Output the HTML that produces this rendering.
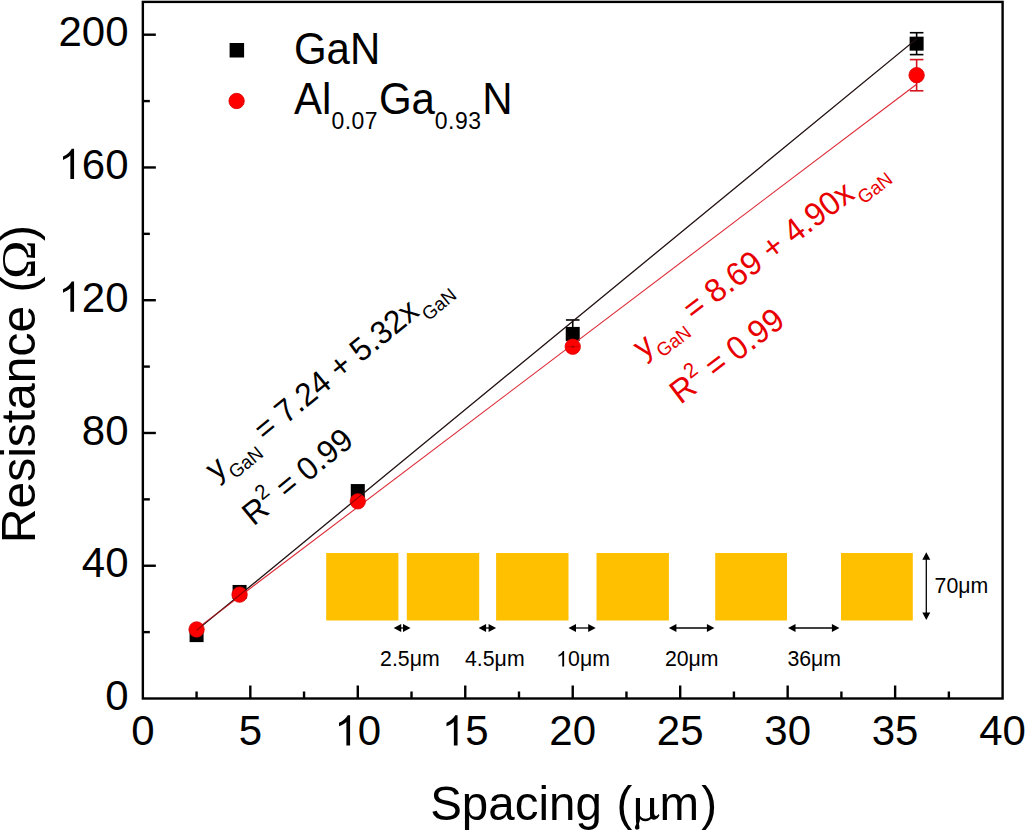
<!DOCTYPE html>
<html><head><meta charset="utf-8"><style>
html,body{margin:0;padding:0;background:#fff;}
svg{display:block;font-family:"Liberation Sans", sans-serif;}
</style></head><body>
<svg width="1025" height="831" viewBox="0 0 1025 831">
<rect width="1025" height="831" fill="#fff"/>
<rect x="142.85" y="1.9" width="859.75" height="696.60" fill="none" stroke="#000" stroke-width="2.4"/>
<line x1="196.58" y1="698.5" x2="196.58" y2="691.5" stroke="#000" stroke-width="2.4"/>
<line x1="250.32" y1="698.5" x2="250.32" y2="685.5" stroke="#000" stroke-width="2.4"/>
<line x1="304.05" y1="698.5" x2="304.05" y2="691.5" stroke="#000" stroke-width="2.4"/>
<line x1="357.79" y1="698.5" x2="357.79" y2="685.5" stroke="#000" stroke-width="2.4"/>
<line x1="411.52" y1="698.5" x2="411.52" y2="691.5" stroke="#000" stroke-width="2.4"/>
<line x1="465.26" y1="698.5" x2="465.26" y2="685.5" stroke="#000" stroke-width="2.4"/>
<line x1="518.99" y1="698.5" x2="518.99" y2="691.5" stroke="#000" stroke-width="2.4"/>
<line x1="572.73" y1="698.5" x2="572.73" y2="685.5" stroke="#000" stroke-width="2.4"/>
<line x1="626.46" y1="698.5" x2="626.46" y2="691.5" stroke="#000" stroke-width="2.4"/>
<line x1="680.19" y1="698.5" x2="680.19" y2="685.5" stroke="#000" stroke-width="2.4"/>
<line x1="733.93" y1="698.5" x2="733.93" y2="691.5" stroke="#000" stroke-width="2.4"/>
<line x1="787.66" y1="698.5" x2="787.66" y2="685.5" stroke="#000" stroke-width="2.4"/>
<line x1="841.40" y1="698.5" x2="841.40" y2="691.5" stroke="#000" stroke-width="2.4"/>
<line x1="895.13" y1="698.5" x2="895.13" y2="685.5" stroke="#000" stroke-width="2.4"/>
<line x1="948.87" y1="698.5" x2="948.87" y2="691.5" stroke="#000" stroke-width="2.4"/>
<line x1="142.85" y1="632.12" x2="149.85" y2="632.12" stroke="#000" stroke-width="2.4"/>
<line x1="142.85" y1="565.74" x2="155.85" y2="565.74" stroke="#000" stroke-width="2.4"/>
<line x1="142.85" y1="499.36" x2="149.85" y2="499.36" stroke="#000" stroke-width="2.4"/>
<line x1="142.85" y1="432.98" x2="155.85" y2="432.98" stroke="#000" stroke-width="2.4"/>
<line x1="142.85" y1="366.60" x2="149.85" y2="366.60" stroke="#000" stroke-width="2.4"/>
<line x1="142.85" y1="300.22" x2="155.85" y2="300.22" stroke="#000" stroke-width="2.4"/>
<line x1="142.85" y1="233.84" x2="149.85" y2="233.84" stroke="#000" stroke-width="2.4"/>
<line x1="142.85" y1="167.46" x2="155.85" y2="167.46" stroke="#000" stroke-width="2.4"/>
<line x1="142.85" y1="101.08" x2="149.85" y2="101.08" stroke="#000" stroke-width="2.4"/>
<line x1="142.85" y1="34.70" x2="155.85" y2="34.70" stroke="#000" stroke-width="2.4"/>
<text transform="translate(131.17,745.40) scale(1,1.03)" font-size="42">0</text>
<text transform="translate(238.64,745.40) scale(1,1.03)" font-size="42">5</text>
<path transform="translate(334.43,745.40) scale(0.02051,-0.02051)" d="M763,0 L583,0 L583,1147 C540,1106 483,1064 413,1023 C343,982 280,951 224,930 L224,1104 C325,1151 413,1209 489,1276 C564,1343 618,1409 649,1473 L763,1473 Z"/><text transform="translate(357.79,745.40) scale(1,1.03)" font-size="42">0</text>
<path transform="translate(441.90,745.40) scale(0.02051,-0.02051)" d="M763,0 L583,0 L583,1147 C540,1106 483,1064 413,1023 C343,982 280,951 224,930 L224,1104 C325,1151 413,1209 489,1276 C564,1343 618,1409 649,1473 L763,1473 Z"/><text transform="translate(465.26,745.40) scale(1,1.03)" font-size="42">5</text>
<text transform="translate(549.37,745.40) scale(1,1.03)" font-size="42">20</text>
<text transform="translate(656.84,745.40) scale(1,1.03)" font-size="42">25</text>
<text transform="translate(764.30,745.40) scale(1,1.03)" font-size="42">30</text>
<text transform="translate(871.77,745.40) scale(1,1.03)" font-size="42">35</text>
<text transform="translate(979.24,745.40) scale(1,1.03)" font-size="42">40</text>
<text transform="translate(105.14,710.10) scale(1,1.03)" font-size="42">0</text>
<text transform="translate(81.78,577.34) scale(1,1.03)" font-size="42">40</text>
<text transform="translate(81.78,444.58) scale(1,1.03)" font-size="42">80</text>
<path transform="translate(58.42,311.82) scale(0.02051,-0.02051)" d="M763,0 L583,0 L583,1147 C540,1106 483,1064 413,1023 C343,982 280,951 224,930 L224,1104 C325,1151 413,1209 489,1276 C564,1343 618,1409 649,1473 L763,1473 Z"/><text transform="translate(81.78,311.82) scale(1,1.03)" font-size="42">20</text>
<path transform="translate(58.42,179.06) scale(0.02051,-0.02051)" d="M763,0 L583,0 L583,1147 C540,1106 483,1064 413,1023 C343,982 280,951 224,930 L224,1104 C325,1151 413,1209 489,1276 C564,1343 618,1409 649,1473 L763,1473 Z"/><text transform="translate(81.78,179.06) scale(1,1.03)" font-size="42">60</text>
<text transform="translate(58.42,46.30) scale(1,1.03)" font-size="42">200</text>
<text transform="translate(430.2,819.5) scale(1,1.03)" font-size="47.5">Spacing</text><text transform="translate(616.4,819.5) scale(1,1.03)" font-size="47.5">(</text><path d="M635.9,798.1 H640.0 V818.6 Q640,821.6 638.9,823.9 Q639.4,825.2 639.3,826.7 A2.25,2.25 0 1 1 634.9,827.3 Q635.2,825.6 636.3,823.9 Q635.9,821.6 635.9,818.6 Z"/><path d="M639.2,814.2 C641,818.6 645.2,819.4 648.2,818.2 C650,817.4 650.9,816 651.4,814.4 L652.6,816.8 C651.2,819.8 648.6,821.2 645.4,821.2 C642,821.2 639.8,819.4 638.6,817.2 Z"/><path d="M650.0,798.1 H654.1 V813.6 Q654.4,816.2 656.3,815.9 Q657.6,815.6 658.6,814.0 L659.5,815.2 Q658,818.9 655.2,819.6 Q651.2,820.3 650.4,817 Q650.0,815.8 650.0,814 Z"/><text transform="translate(659.4,819.5) scale(1,1.03)" font-size="47.5">m</text><text transform="translate(701.2,819.5) scale(1,1.03)" font-size="47.5">)</text>
<g transform="translate(35.4,543.2) rotate(-90) scale(1,1.02)"><text x="0" y="0" font-size="48">Resistance (</text><text transform="translate(264.2,0) scale(1.082,1)" font-family="Liberation Serif" font-size="48">&#937;</text><text x="302.3" y="0" font-size="48">)</text></g>
<line x1="572.73" y1="319.97" x2="572.73" y2="347.85" stroke="#000" stroke-width="1.6"/><line x1="565.93" y1="319.97" x2="579.52" y2="319.97" stroke="#000" stroke-width="1.6"/><line x1="565.93" y1="347.85" x2="579.52" y2="347.85" stroke="#000" stroke-width="1.6"/>
<line x1="916.62" y1="32.71" x2="916.62" y2="54.61" stroke="#000" stroke-width="1.6"/><line x1="909.83" y1="32.71" x2="923.42" y2="32.71" stroke="#000" stroke-width="1.6"/><line x1="909.83" y1="54.61" x2="923.42" y2="54.61" stroke="#000" stroke-width="1.6"/>
<rect x="189.58" y="628.11" width="14" height="14" fill="#000"/>
<rect x="232.57" y="584.96" width="14" height="14" fill="#000"/>
<rect x="350.79" y="484.06" width="14" height="14" fill="#000"/>
<rect x="565.73" y="326.91" width="14" height="14" fill="#000"/>
<rect x="909.62" y="36.66" width="14" height="14" fill="#000"/>
<line x1="196.58" y1="630.33" x2="916.62" y2="38.82" stroke="#222" stroke-width="1.15"/>
<line x1="196.58" y1="629.00" x2="916.62" y2="84.19" stroke="#dc2a36" stroke-width="1.1"/>
<line x1="916.62" y1="59.59" x2="916.62" y2="90.79" stroke="#d4141e" stroke-width="1.6"/><line x1="909.83" y1="59.59" x2="923.42" y2="59.59" stroke="#d4141e" stroke-width="1.6"/><line x1="909.83" y1="90.79" x2="923.42" y2="90.79" stroke="#d4141e" stroke-width="1.6"/>
<circle cx="196.58" cy="629.46" r="7.7" fill="#f00" stroke="#d00" stroke-width="0.8"/>
<circle cx="239.57" cy="594.62" r="7.7" fill="#f00" stroke="#d00" stroke-width="0.8"/>
<circle cx="357.79" cy="501.35" r="7.7" fill="#f00" stroke="#d00" stroke-width="0.8"/>
<circle cx="572.73" cy="346.69" r="7.7" fill="#f00" stroke="#d00" stroke-width="0.8"/>
<circle cx="916.62" cy="75.19" r="7.7" fill="#f00" stroke="#d00" stroke-width="0.8"/>
<line x1="566.73" y1="346.69" x2="578.73" y2="346.69" stroke="#a00" stroke-width="1" opacity="0.6"/>
<circle cx="572.73" cy="346.69" r="1.3" fill="#900" opacity="0.7"/>
<line x1="196.58" y1="630.33" x2="916.62" y2="38.82" stroke="rgba(40,0,0,0.5)" stroke-width="1.15"/>
<rect x="229.6" y="43" width="14.5" height="14.5" fill="#000"/>
<text transform="translate(293.9,63.6) scale(1,1.035)" font-size="42">GaN</text>
<circle cx="236.6" cy="101" r="7.7" fill="#f00" stroke="#d00" stroke-width="0.8"/>
<text transform="translate(294.1,114.4) scale(1,1.035)" font-size="42">Al</text><text transform="translate(331.4,129.3) scale(1,1.035)" font-size="23" letter-spacing="0.5">0.07</text><text transform="translate(378.9,114.4) scale(1,1.035)" font-size="42">Ga</text><text transform="translate(434.8,129.3) scale(1,1.035)" font-size="23" letter-spacing="0.5">0.93</text><text transform="translate(482.2,114.4) scale(1,1.035)" font-size="42">N</text>
<g transform="translate(216.5,481.5) rotate(-39.3) scale(1,1.03)" fill="#000"><text x="0" y="0" font-size="31.5">y<tspan font-size="18.5" dy="10" dx="0">GaN</tspan><tspan dy="-10"> = 7.24 + 5.32x</tspan><tspan font-size="18.5" dy="10" dx="1.5">GaN</tspan></text><text x="0" y="56.8" font-size="31.5">R<tspan font-size="20.5" dy="-14.2">2</tspan><tspan dy="14.2"> = 0.99</tspan></text></g>
<g transform="translate(643.4,359.4) rotate(-37.3) scale(1,1.03)" fill="#e80000"><text x="0" y="0" font-size="32">y<tspan font-size="18.5" dy="10.2" dx="0">GaN</tspan><tspan dy="-10.2"> = 8.69 + 4.90x</tspan><tspan font-size="18.5" dy="10.2" dx="1.5">GaN</tspan></text><text x="2" y="57.1" font-size="32">R<tspan font-size="20.5" dy="-14.2">2</tspan><tspan dy="14.2"> = 0.99</tspan></text></g>
<rect x="326.2" y="553" width="72.2" height="67.5" fill="#FFC000"/>
<rect x="406.8" y="553" width="72.4" height="67.5" fill="#FFC000"/>
<rect x="496.1" y="553" width="72.4" height="67.5" fill="#FFC000"/>
<rect x="596.5" y="553" width="72.4" height="67.5" fill="#FFC000"/>
<rect x="715.2" y="553" width="71.8" height="67.5" fill="#FFC000"/>
<rect x="841" y="553" width="71.8" height="67.5" fill="#FFC000"/>
<line x1="396.7" y1="628" x2="407.5" y2="628" stroke="#000" stroke-width="1.3"/><path d="M393.7,628 l7.5,-4 v8 z M410.5,628 l-7.5,-4 v8 z" fill="#000"/>
<line x1="481.6" y1="628" x2="493.1" y2="628" stroke="#000" stroke-width="1.3"/><path d="M478.6,628 l7.5,-4 v8 z M496.1,628 l-7.5,-4 v8 z" fill="#000"/>
<line x1="571.5" y1="628" x2="592.7" y2="628" stroke="#000" stroke-width="1.3"/><path d="M568.5,628 l7.5,-4 v8 z M595.7,628 l-7.5,-4 v8 z" fill="#000"/>
<line x1="671.9" y1="628" x2="711.4" y2="628" stroke="#000" stroke-width="1.3"/><path d="M668.9,628 l7.5,-4 v8 z M714.4,628 l-7.5,-4 v8 z" fill="#000"/>
<line x1="791" y1="628" x2="836.4" y2="628" stroke="#000" stroke-width="1.3"/><path d="M788,628 l7.5,-4 v8 z M839.4,628 l-7.5,-4 v8 z" fill="#000"/>
<line x1="926.3" y1="555" x2="926.3" y2="617" stroke="#000" stroke-width="1.3"/><path d="M926.3,552.3 l-4,7.5 h8 z M926.3,620 l-4,-7.5 h8 z" fill="#000"/>
<text transform="translate(380.10,666.40) scale(1,1.03)" font-size="21.3">2.5</text><text transform="translate(409.71,666.4) scale(1,1.03)" font-size="21.3">&#956;m</text>
<text transform="translate(465.00,666.40) scale(1,1.03)" font-size="21.3">4.5</text><text transform="translate(494.61,666.4) scale(1,1.03)" font-size="21.3">&#956;m</text>
<path transform="translate(556.20,666.40) scale(0.01040,-0.01040)" d="M763,0 L583,0 L583,1147 C540,1106 483,1064 413,1023 C343,982 280,951 224,930 L224,1104 C325,1151 413,1209 489,1276 C564,1343 618,1409 649,1473 L763,1473 Z"/><text transform="translate(568.05,666.40) scale(1,1.03)" font-size="21.3">0</text><text transform="translate(579.89,666.4) scale(1,1.03)" font-size="21.3">&#956;m</text>
<text transform="translate(664.90,666.40) scale(1,1.03)" font-size="21.3">20</text><text transform="translate(688.59,666.4) scale(1,1.03)" font-size="21.3">&#956;m</text>
<text transform="translate(787.40,666.40) scale(1,1.03)" font-size="21.3">36</text><text transform="translate(811.09,666.4) scale(1,1.03)" font-size="21.3">&#956;m</text>
<text transform="translate(934.6,592.6) scale(1,1.03)" font-size="21.3">70&#956;m</text>
</svg>
</body></html>
